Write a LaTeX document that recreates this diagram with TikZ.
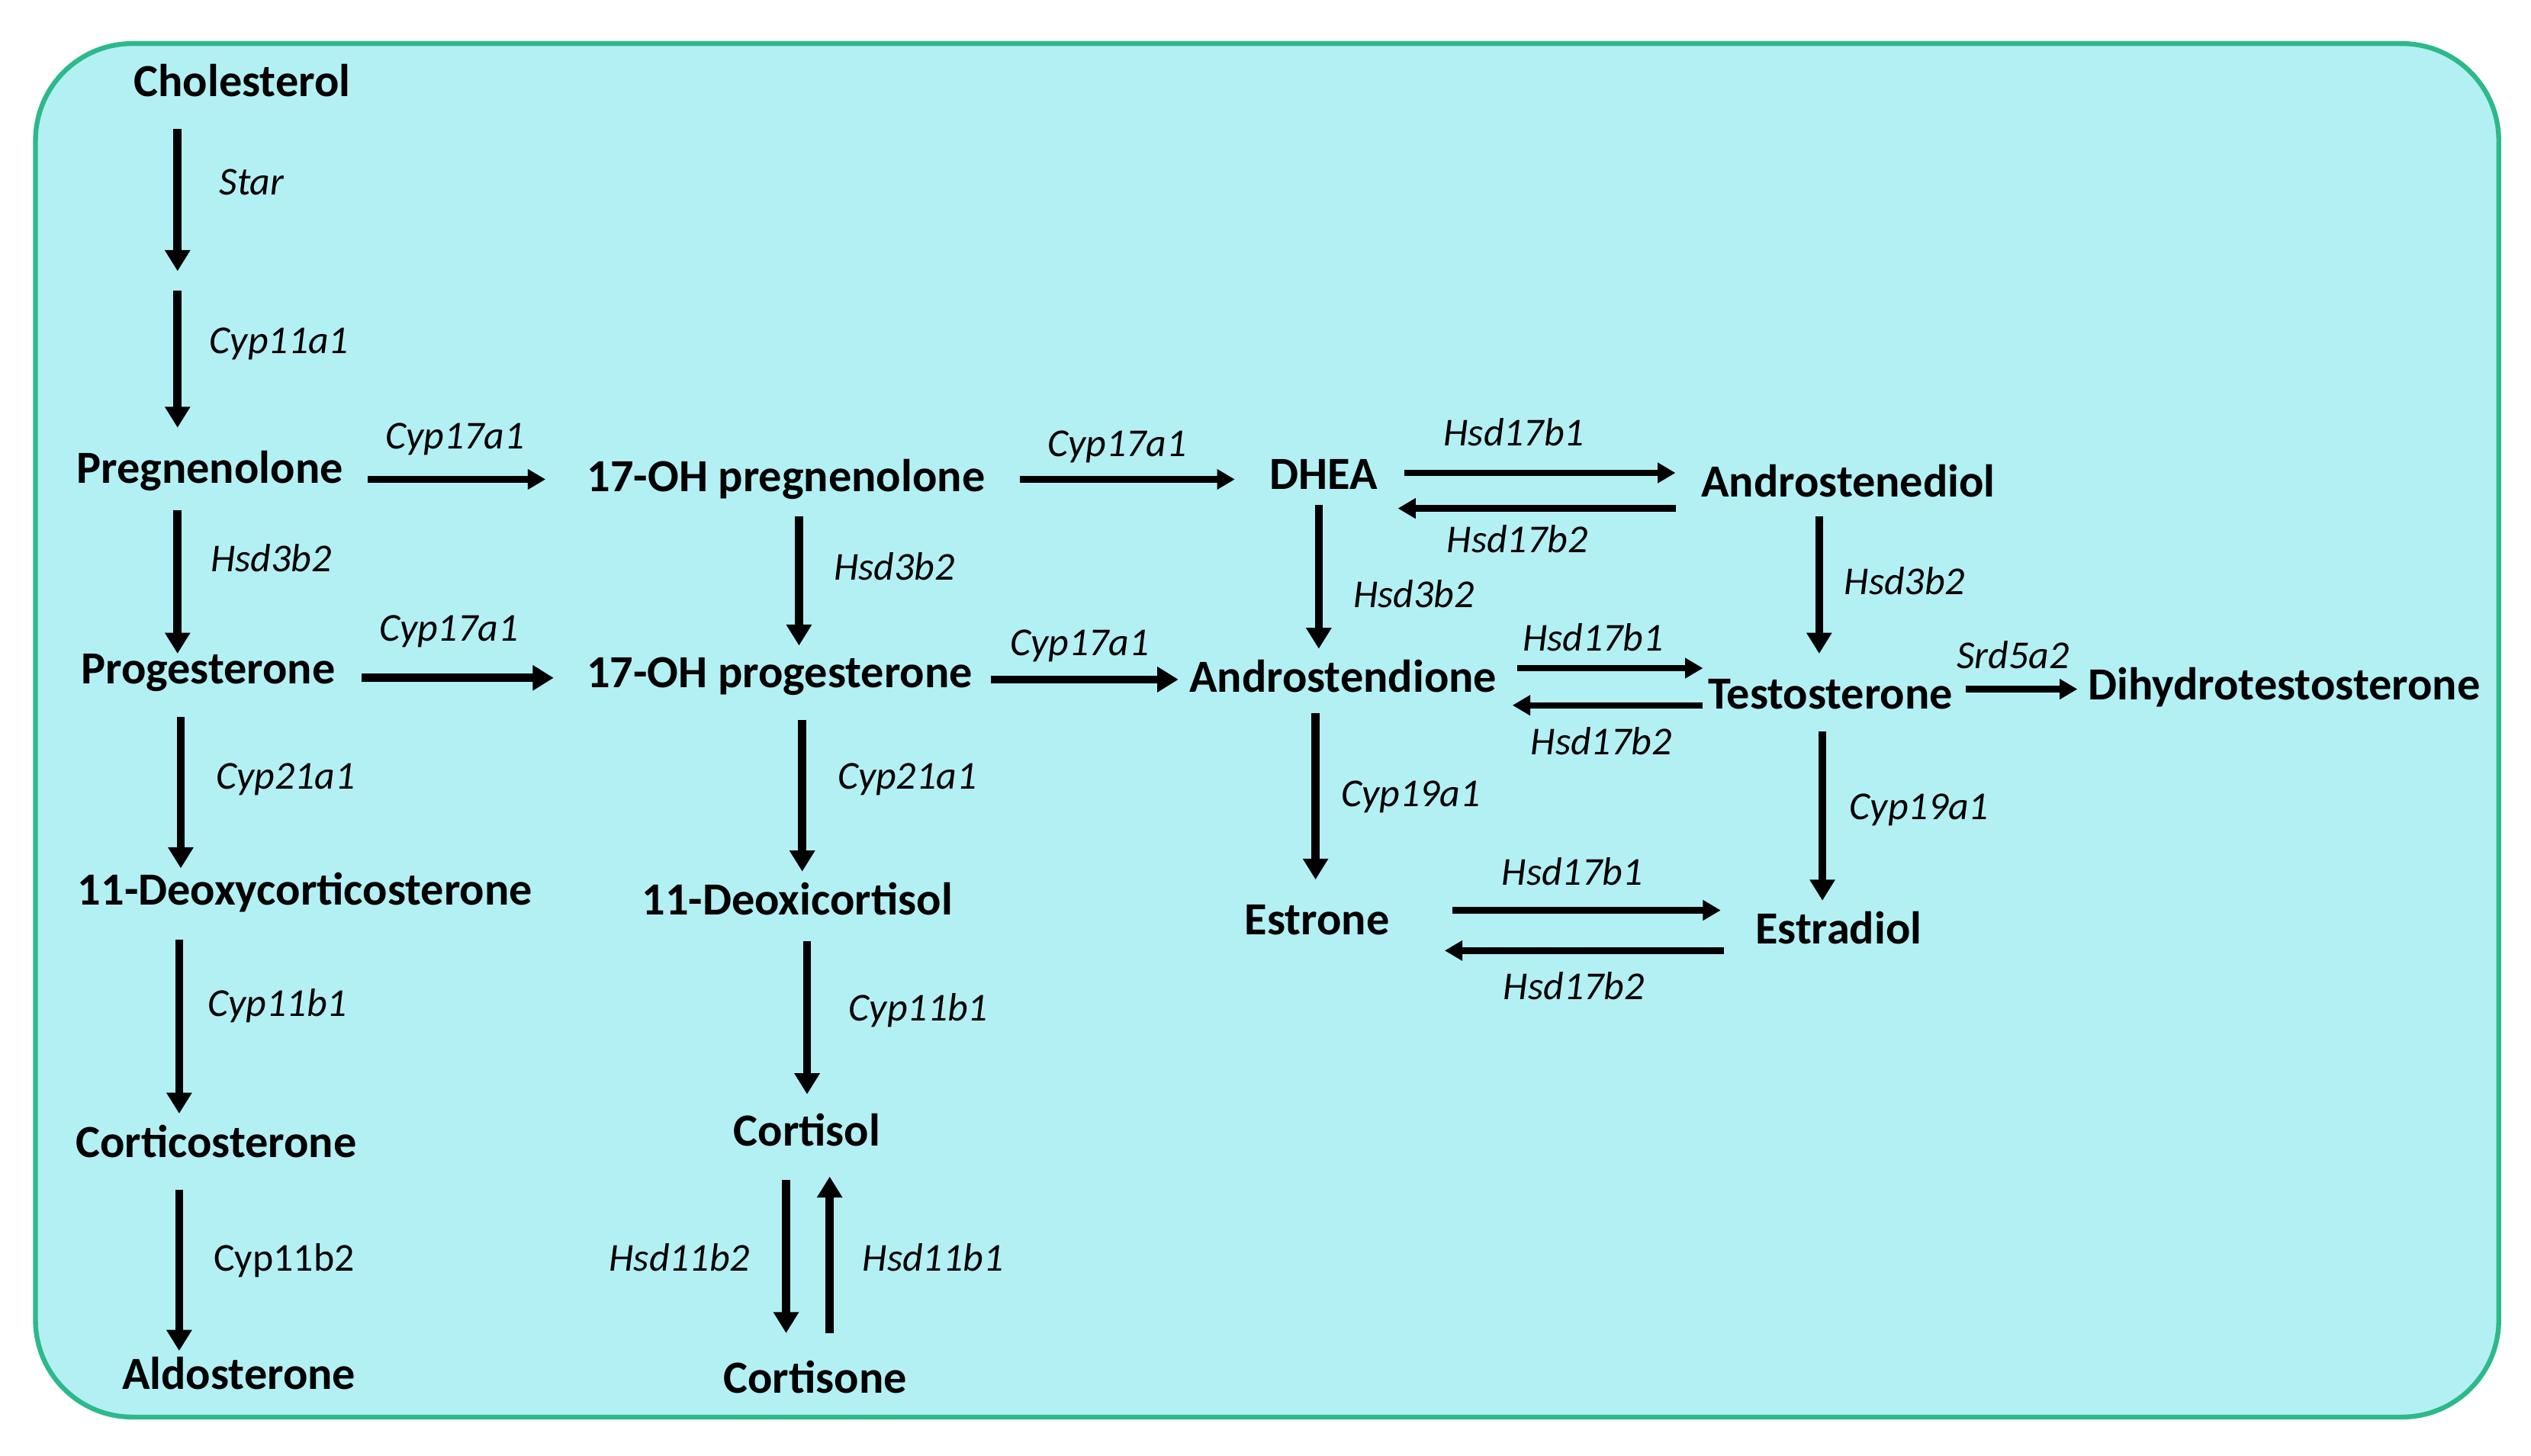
\documentclass[tikz,border=0pt]{standalone}
\usepackage{fontspec}
\setmainfont{Carlito}
\usetikzlibrary{arrows.meta}
\definecolor{bgc}{HTML}{B3F0F3}
\definecolor{bdc}{HTML}{2DB98A}
\begin{document}
\begin{tikzpicture}[x=1pt,y=-1pt,
 nm/.style={font=\fontsize{28.5}{30}\selectfont\bfseries},
 ez/.style={font=\fontsize{24.5}{26}\selectfont\itshape},
 ar/.style={line width=5pt,-{Triangle[length=13pt,width=15pt]}},
 ar2/.style={line width=4pt,-{Triangle[length=11pt,width=12pt]}}]
\useasboundingbox (0,0) rectangle (1568,902);
\draw[bdc,line width=3pt,fill=bgc,rounded corners=60pt] (22,27) rectangle (1548,878);
% names
\node[nm] (chol) at (150,50) {Cholesterol};
\node[nm] (preg) at (130,292) {Pregnenolone};
\node[nm] (ohpreg) at (487,297) {17-OH pregnenolone};
\node[nm] (dhea) at (820,294) {DHEA};
\node[nm] (adiol) at (1145,298) {Androstenediol};
\node[nm] (prog) at (129,417) {Progesterone};
\node[nm] (ohprog) at (483,419) {17-OH progesterone};
\node[nm] (adione) at (832,419) {Androstendione};
\node[nm] (testo) at (1134,430) {Testosterone};
\node[nm] (dht) at (1415,426) {Dihydrotestosterone};
\node[nm] (doc) at (189,553) {11-Deoxycorticosterone};
\node[nm] (dcl) at (494,557) {11-Deoxicortisol};
\node[nm] (estrone) at (816,570) {Estrone};
\node[nm] (estradiol) at (1139,575) {Estradiol};
\node[nm] (cortico) at (134,707) {Corticosterone};
\node[nm] (cortisol) at (500,700) {Cortisol};
\node[nm] (aldo) at (148,851) {Aldosterone};
\node[nm] (cortisone) at (505,853) {Cortisone};
% arrows
\draw[ar] (110,80) -- (110,168);
\draw[ar] (110,180) -- (110,265);
\draw[ar2] (228,297) -- (338,297);
\draw[ar2] (632,297) -- (765,297);
\draw[ar2] (870,293) -- (1038,293);
\draw[ar2] (1038,315) -- (866,315);
\draw[ar] (110,316) -- (110,405);
\draw[ar] (224,420) -- (343,420);
\draw[ar] (495,320) -- (495,400);
\draw[ar] (614,421) -- (730,421);
\draw[ar] (817,313) -- (817,402);
\draw[ar2] (940,414) -- (1055,414);
\draw[ar2] (1055,437) -- (937,437);
\draw[ar] (1127,320) -- (1127,405);
\draw[ar2] (1218,427) -- (1287,427);
\draw[ar] (112,444) -- (112,538);
\draw[ar] (497,446) -- (497,540);
\draw[ar] (815,442) -- (815,545);
\draw[ar] (1129,453) -- (1129,558);
\draw[ar2] (900,564) -- (1066,564);
\draw[ar2] (1068,589) -- (895,589);
\draw[ar] (111,582) -- (111,690);
\draw[ar] (500,583) -- (500,678);
\draw[ar] (111,737) -- (111,837);
\draw[ar] (487,731) -- (487,826);
\draw[ar] (514,826) -- (514,729);
% enzymes
\node[ez] at (156,113) {Star};
\node[ez] at (173,213) {Cyp11a1};
\node[ez] at (282,272) {Cyp17a1};
\node[ez] at (692,277) {Cyp17a1};
\node[ez] at (938,268) {Hsd17b1};
\node[ez] at (940,334) {Hsd17b2};
\node[ez] at (168,346) {Hsd3b2};
\node[ez] at (278,391) {Cyp17a1};
\node[ez] at (554,351) {Hsd3b2};
\node[ez] at (669,400) {Cyp17a1};
\node[ez] at (876,368) {Hsd3b2};
\node[ez] at (987,395) {Hsd17b1};
\node[ez] at (992,459) {Hsd17b2};
\node[ez] at (1180,360) {Hsd3b2};
\node[ez] at (1247,406) {Srd5a2};
\node[ez] at (177,483) {Cyp21a1};
\node[ez] at (562,483) {Cyp21a1};
\node[ez] at (874,494) {Cyp19a1};
\node[ez] at (1189,502) {Cyp19a1};
\node[ez] at (974,540) {Hsd17b1};
\node[ez] at (975,611) {Hsd17b2};
\node[ez] at (172,623) {Cyp11b1};
\node[ez] at (569,626) {Cyp11b1};
\node[font=\fontsize{24.5}{26}\selectfont] at (176,781) {Cyp11b2};
\node[ez] at (421,779) {Hsd11b2};
\node[ez] at (578,779) {Hsd11b1};
\end{tikzpicture}
\end{document}
